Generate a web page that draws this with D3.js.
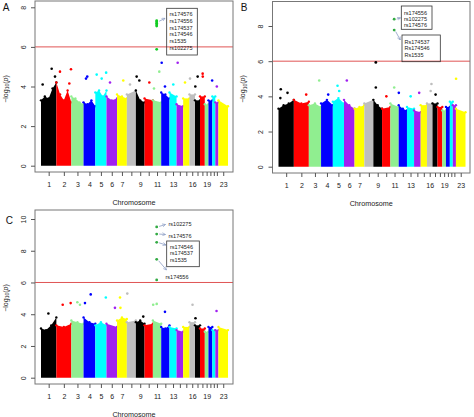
<!DOCTYPE html>
<html>
<head>
<meta charset="utf-8">
<script src="https://cdn.jsdelivr.net/npm/d3@7"></script>
<style>
body { margin: 0; background: #fff; }
svg { display: block; }
text { font-family: "Liberation Sans", Arial, sans-serif; }
</style>
</head>
<body>
<svg id="chart" width="474" height="417"></svg>
<script>

// chromosome sizes (Mb), 23 = X
let chromLen = [249, 243, 198, 191, 181, 171, 159, 146, 141, 135, 135, 134, 115, 107, 102, 90, 81, 78, 59, 63, 48, 51, 155];
let chromColors = ["#000000", "#ff0000", "#90ee90", "#0000ff", "#00ffff", "#a020f0", "#ffff00", "#bebebe"];
let tickLabels = ["1", "2", "3", "4", "5", "6", "7", "", "9", "", "11", "", "13", "", "", "16", "", "", "19", "", "", "", "23"];

// top of the dense block of SNPs, a few readings along each chromosome
let envA = [[3.3, 3.5, 3.4, 3.9, 4.2], [4.2, 3.6, 3.3, 3.8, 3.2], [3.5, 3.4, 3.2, 3.1], [3.2, 3.1, 3.3, 3.0], [3.7, 3.8, 3.5, 3.8],
  [3.5, 3.3, 3.4], [3.6, 3.5, 3.4], [3.6, 3.8], [3.8, 3.3, 3.2], [3.4, 3.3], [3.3, 3.2], [3.7, 3.6, 3.4], [3.7, 3.5], [3.1, 3.0],
  [3.4], [3.6], [3.3], [3.5], [3.1], [3.3], [3.5], [3.2], [3.3, 3.0]];
let envB = [[3.3, 3.5, 3.6, 3.8], [3.8, 3.6, 3.7], [3.5, 3.6, 3.4], [3.6, 3.8, 3.5], [3.7, 3.9, 3.6],
  [3.8, 3.5, 3.3], [3.3, 3.4, 3.5], [3.6, 3.8], [3.8, 3.5, 3.3], [3.3, 3.4], [3.6, 3.4], [3.5, 3.3, 3.2], [3.4, 3.3], [3.2, 3.1],
  [3.5], [3.6], [3.6], [3.4], [3.2], [3.4], [3.7], [3.5], [3.3, 3.1]];
let envC = [[3.1, 3.0, 3.3, 3.8], [3.3, 3.2, 3.4], [3.6, 3.5, 3.4], [3.8, 3.5, 3.4], [3.3, 3.5, 3.3],
  [3.4, 3.2], [3.6, 3.8, 3.7], [3.5, 3.6], [3.5, 3.6, 3.4], [3.3, 3.4], [3.6, 3.4], [3.2, 3.1, 3.3], [3.2, 3.1], [3.0, 2.9],
  [3.2], [3.5], [3.3], [3.1], [2.9], [3.2], [3.0], [3.0], [3.2, 3.0]];

// loose SNPs above the block: [chromosome, position Mb, -log10 p]
let peaksA = [[1, 27, 4.1], [1, 173, 4.9], [1, 227, 4.5], [2, 59, 4.75], [2, 210, 4.15], [2, 237, 4.87], [4, 40, 4.4], [4, 60, 4.5],
  [5, 22, 4.6], [5, 103, 4.4], [5, 175, 4.7], [6, 57, 4.2], [7, 101, 4.3], [8, 51, 4.1], [9, 13, 4.5], [9, 56, 4.3],
  [10, 77, 4.2], [11, 18, 3.9], [11, 104, 4.75], [12, 8, 5.2], [12, 61, 4.0], [13, 62, 4.1], [14, 18, 5.2], [15, 30, 4.2],
  [16, 9, 4.4], [17, 5, 4.0], [17, 43, 4.5], [18, 43, 4.65], [18, 45, 4.5], [20, 60, 4.3], [22, 25, 4.0]];
let peaksB = [[1, 30, 3.9], [1, 37, 4.4], [1, 146, 4.2], [2, 200, 4.1], [3, 168, 4.9], [4, 116, 4.1], [5, 76, 4.6], [5, 103, 4.3],
  [6, 46, 4.9], [9, 40, 4.5], [10, 70, 4.0], [11, 62, 4.5], [12, 2, 4.2], [13, 60, 4.0], [14, 83, 4.2], [16, 60, 4.3], [16, 73, 4.7],
  [17, 50, 4.1], [23, 2, 5.0]];
let peaksC = [[1, 120, 4.05], [2, 103, 4.6], [2, 232, 4.7], [3, 97, 4.75], [3, 140, 4.6], [4, 23, 4.7], [4, 116, 5.25],
  [5, 170, 5.05], [6, 137, 4.4], [7, 48, 5.05], [7, 55, 4.4], [8, 7, 5.3], [9, 120, 3.85], [11, 5, 4.6], [11, 62, 4.65],
  [12, 61, 4.15], [16, 50, 4.6], [17, 8, 3.75], [22, 20, 4.2]];

// genome-wide hits (FADS region, chr11)
let sigA = [[11, 61.6, 5.88], [11, 61.6, 7.05], [11, 61.6, 7.12], [11, 61.6, 7.2], [11, 61.6, 7.27], [11, 61.6, 7.32]];
let sigB = [[9, 40, 5.93], [11, 61.6, 8.39], [11, 61.6, 7.77]];
let sigC = [[11, 61.6, 9.5], [11, 61.6, 9.05], [11, 61.6, 8.53], [11, 61.6, 7.46], [11, 61.6, 6.16]];
let sigColorB = ["#000000", "#33aa44", "#33aa44"];

let labelsA = ["rs174576", "rs174556", "rs174537", "rs174546", "rs1535", "rs102275"];
let labelsB1 = ["rs174556", "rs102275", "rs174576"];
let labelsB2 = ["Rs174537", "Rs174546", "Rs1535"];
let labelsC = ["rs102275", "rs174576", "rs174546", "rs174537", "rs1535", "rs174556"];

let threshold = 6;

let svg = d3.select("#chart");

let chromStart = d3.cumsum([0].concat(chromLen)).slice(0, chromLen.length);
let genomeLen = d3.sum(chromLen);

let defs = svg.append("defs");
defs.append("marker")
  .attr("id", "arr")
  .attr("viewBox", "0 0 10 10")
  .attr("refX", 9).attr("refY", 5)
  .attr("markerWidth", 5).attr("markerHeight", 5)
  .attr("orient", "auto")
  .append("path")
  .attr("d", "M1,1 L9,5 L1,9")
  .attr("fill", "none")
  .attr("stroke", "#8a9cc4")
  .attr("stroke-width", 1.5);

function drawPanel(p) {
  let g = svg.append("g");
  let x = d3.scaleLinear().domain([0, genomeLen]).range([p.x0, p.x1]);
  let y = d3.scaleLinear().domain([0, p.ymax]).range([p.yb, p.yt]);
  let gx = (c, pos) => x(chromStart[c - 1] + pos);

  // dense blocks
  let area = d3.area().x(d => d[0]).y0(y(0)).y1(d => y(d[1]));
  p.env.forEach((vals, i) => {
    let vs = vals.length == 1 ? [vals[0], vals[0]] : vals;
    let pts = vs.map((v, k) => [x(chromStart[i] + chromLen[i] * k / (vs.length - 1)), v]);
    g.append("path")
      .attr("d", area(pts))
      .attr("fill", chromColors[i % 8]);
    g.selectAll(null)
      .data(pts)
      .join("circle")
      .attr("cx", d => d[0])
      .attr("cy", d => y(d[1]))
      .attr("r", 1.2)
      .attr("fill", chromColors[i % 8]);
  });

  g.selectAll(null)
    .data(p.peaks)
    .join("circle")
    .attr("cx", d => gx(d[0], d[1]))
    .attr("cy", d => y(d[2]))
    .attr("r", 1.3)
    .attr("fill", d => chromColors[(d[0] - 1) % 8]);

  // threshold line
  g.append("line")
    .attr("x1", p.bx0).attr("x2", p.bx1)
    .attr("y1", y(threshold)).attr("y2", y(threshold))
    .attr("stroke", "#e05555")
    .attr("stroke-width", 1);

  g.selectAll(null)
    .data(p.sig)
    .join("circle")
    .attr("cx", d => gx(d[0], d[1]))
    .attr("cy", d => y(d[2]))
    .attr("r", 1.4)
    .attr("fill", (d, i) => p.sigColor ? p.sigColor[i] : p.green);

  // box
  g.append("rect")
    .attr("x", p.bx0).attr("y", p.by0)
    .attr("width", p.bx1 - p.bx0).attr("height", p.by1 - p.by0)
    .attr("fill", "none")
    .attr("stroke", "#777")
    .attr("stroke-width", 1);

  // x axis
  let ax = g.append("g")
    .attr("transform", "translate(0," + p.by1 + ")")
    .call(d3.axisBottom(x)
      .tickValues(chromStart.map((s, i) => s + chromLen[i] / 2))
      .tickFormat((d, i) => tickLabels[i])
      .tickSize(4).tickPadding(6.5));
  ax.select(".domain").remove();
  ax.selectAll("line").attr("stroke", "#555");
  ax.selectAll("text").attr("font-size", 7).attr("fill", "#222").attr("font-family", null);

  // y axis
  let ay = g.append("g")
    .attr("transform", "translate(" + p.bx0 + ",0)")
    .call(d3.axisLeft(y).tickValues(p.yticks).tickSize(4));
  ay.select(".domain").remove();
  ay.selectAll("line").attr("stroke", "#555");
  ay.selectAll("text")
    .attr("x", null).attr("dy", null)
    .attr("transform", "translate(-9.5,0) rotate(-90)")
    .attr("text-anchor", "middle")
    .attr("font-size", 7).attr("fill", "#222").attr("font-family", null);

  g.append("text")
    .attr("x", (p.bx0 + p.bx1) / 2)
    .attr("y", p.by1 + 32.5)
    .attr("text-anchor", "middle")
    .attr("font-size", 7.2)
    .attr("fill", "#222")
    .text("Chromosome");

  let yl = g.append("text")
    .attr("transform", "translate(" + (p.bx0 - 27.5) + "," + p.ylabY + ") rotate(-90)")
    .attr("text-anchor", "middle")
    .attr("font-size", 7)
    .attr("fill", "#222");
  yl.append("tspan").text("\u2212log");
  yl.append("tspan").attr("font-size", 5).attr("dy", 1.5).text("10");
  yl.append("tspan").attr("dy", -1.5).text("(");
  yl.append("tspan").attr("font-style", "italic").text("p");
  yl.append("tspan").text(")");

  g.append("text")
    .attr("x", p.letter[0]).attr("y", p.letter[1])
    .attr("text-anchor", "middle")
    .attr("font-size", 10)
    .attr("fill", "#111")
    .text(p.name);

  return { g: g, x: x, y: y, gx: gx };
}

function note(g, list, xs, ys, size) {
  g.selectAll(null)
    .data(list)
    .join("text")
    .attr("x", xs)
    .attr("y", (d, i) => ys[i] + size * 0.35)
    .attr("font-size", size)
    .attr("fill", "#222")
    .text(d => d);
}

function arrow(g, a, b) {
  g.append("line")
    .attr("x1", a[0]).attr("y1", a[1])
    .attr("x2", b[0]).attr("y2", b[1])
    .attr("stroke", "#8a9cc4")
    .attr("stroke-width", 0.8)
    .attr("marker-end", "url(#arr)");
}

function box(g, x0, y0, x1, y1) {
  g.append("rect")
    .attr("x", x0).attr("y", y0)
    .attr("width", x1 - x0).attr("height", y1 - y0)
    .attr("fill", "none")
    .attr("stroke", "#333")
    .attr("stroke-width", 0.8);
}

// panel A
let pa = drawPanel({ name: "A", env: envA, peaks: peaksA, sig: sigA, green: "#11cc22",
  x0: 41, x1: 228, bx0: 35, bx1: 233, by0: 1, by1: 172, ymax: 8, yb: 165.7, yt: 7.3,
  yticks: [0, 2, 4, 6, 8], ylabY: 89, letter: [6, 11] });
box(pa.g, 166.7, 8.3, 197.3, 55);
note(pa.g, labelsA, 169.5, [14, 20.7, 27.7, 34.3, 41.3, 48.3], 5.5);
arrow(pa.g, [pa.gx(11, 61.6) + 2.5, pa.y(7.32) + 0.5], [165, 18.3]);

// panel B
let pb = drawPanel({ name: "B", env: envB, peaks: peaksB, sig: sigB, sigColor: sigColorB,
  x0: 278.5, x1: 465.5, bx0: 272.5, bx1: 470, by0: 1.5, by1: 173, ymax: 8, yb: 166.7, yt: 26,
  yticks: [0, 2, 4, 6, 8], ylabY: 89, letter: [244, 11] });
box(pb.g, 401.3, 6, 432, 29.3);
box(pb.g, 402, 35, 440.3, 61.7);
note(pb.g, labelsB1, 404, [13.3, 19, 25], 5.5);
note(pb.g, labelsB2, 404.5, [41.7, 48.3, 55], 5.5);
arrow(pb.g, [pb.gx(11, 61.6) + 2.5, pb.y(8.39)], [400.5, 17.8]);
arrow(pb.g, [pb.gx(11, 61.6) + 1.5, pb.y(7.77) + 1.5], [400.3, 40]);

// panel C
let pc = drawPanel({ name: "C", env: envC, peaks: peaksC, sig: sigC, green: "#33aa44",
  x0: 41, x1: 228, bx0: 35, bx1: 233, by0: 210, by1: 384, ymax: 10, yb: 377.7, yt: 219,
  yticks: [0, 2, 4, 6, 8, 10], ylabY: 298, letter: [9.3, 223.5] });
let cx = pc.gx(11, 61.6);
note(pc.g, [labelsC[0], labelsC[1]], 168.5, [224.3, 235.7], 5.5);
box(pc.g, 166.7, 241, 199.3, 266.7);
note(pc.g, [labelsC[2], labelsC[3], labelsC[4]], 170, [246.7, 253.3, 260], 5.5);
note(pc.g, [labelsC[5]], 165.5, [276.7], 5.5);
arrow(pc.g, [cx + 2.5, pc.y(9.5) - 0.5], [165.5, 224.5]);
arrow(pc.g, [cx + 2.5, pc.y(9.05)], [165.5, 234.5]);
arrow(pc.g, [cx + 2.5, pc.y(8.53) + 0.5], [166, 245]);
arrow(pc.g, [cx + 2, pc.y(7.46) + 1.5], [166.5, 270]);

</script>
</body>
</html>
